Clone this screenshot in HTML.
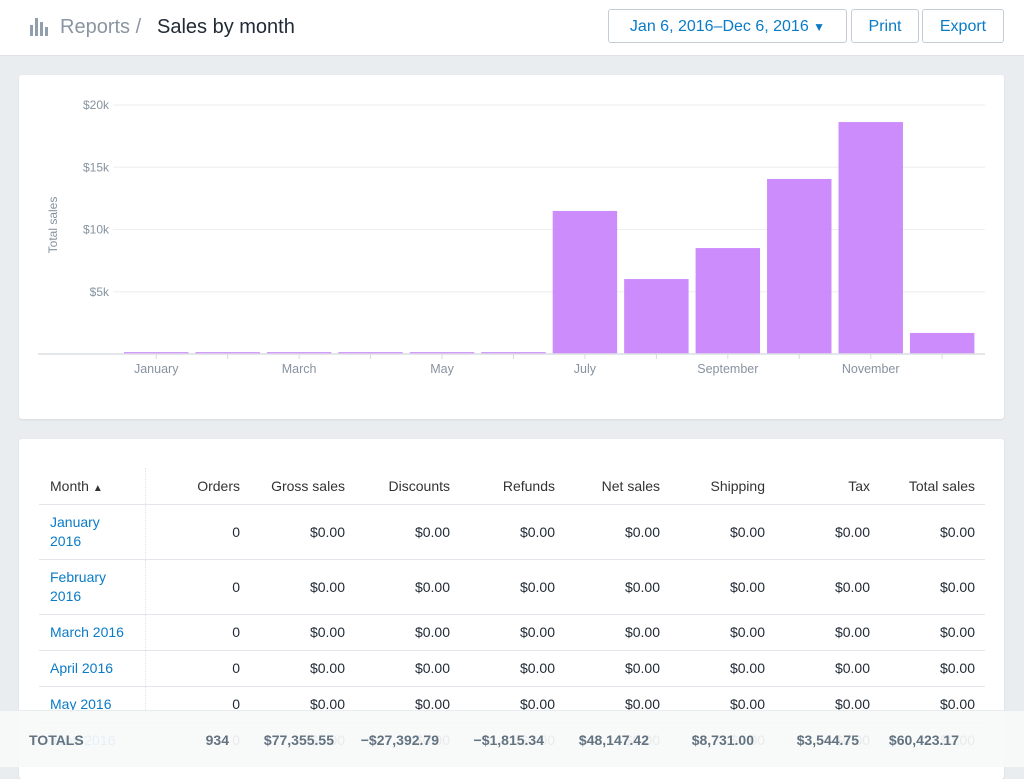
<!DOCTYPE html>
<html><head><meta charset="utf-8"><style>
body{margin:0;width:1024px;height:766px;overflow:hidden;background:#e9edf0;font-family:"Liberation Sans",sans-serif;position:relative}
.hdr{position:absolute;left:0;top:0;width:1024px;height:55px;background:#fff;border-bottom:1px solid #dfe3e8}
.btn{position:absolute;top:9px;height:34px;border:1px solid #c4cdd5;border-radius:3px;background:#fff;color:#0a7bc7;font-size:16px;line-height:34px;text-align:center;box-sizing:border-box}
.card{position:absolute;left:19px;width:985px;background:#fff;border-radius:3px;box-shadow:0 1px 2px rgba(0,0,0,.08)}
table{position:absolute;left:20px;top:29px;border-collapse:collapse;table-layout:fixed;width:946px;font-size:14px;color:#212b36}
td,th{height:36px;padding:0 10px 0 0;text-align:right;font-weight:normal;border-bottom:1px solid #e3e7eb;box-sizing:border-box}
th{height:36px;color:#333}
td.m,th.m{text-align:left;padding-left:11px;padding-right:0;border-right:1px dotted #e0e3e6;color:#0a7bc7;line-height:19px}
th.m{color:#333;line-height:normal}
.tall td{height:55px}
.tot{position:absolute;left:0;top:710px;width:1024px;height:56px;background:rgba(248,249,249,.93);border-top:1px solid #e9ecee;font-size:14px;font-weight:bold;color:#637381}
.tot span{position:absolute;top:21px}
</style></head><body>
<div class="hdr">
<svg style="position:absolute;left:29px;top:17px" width="20" height="20"><rect x="1" y="8" width="3" height="11" fill="#919eab"/><rect x="6" y="1" width="3" height="18" fill="#919eab"/><rect x="11" y="5" width="3" height="14" fill="#919eab"/><rect x="16" y="10" width="3" height="9" fill="#919eab"/></svg>
<span style="position:absolute;left:60px;top:16px;font-size:20px;color:#8a96a3">Reports /</span>
<span style="position:absolute;left:157px;top:16px;font-size:20px;color:#212b36">Sales by month</span>
<div class="btn" style="left:608px;width:239px">Jan 6, 2016–Dec 6, 2016 <span style="font-size:12px">▼</span></div>
<div class="btn" style="left:851px;width:68px">Print</div>
<div class="btn" style="left:922px;width:82px">Export</div>
</div>
<div class="card" style="top:75px;height:344px"></div>
<svg id="chart" style="position:absolute;left:0;top:0" width="1024" height="420"></svg>
<div class="card" style="top:439px;height:340px">
<table>
<colgroup><col style="width:106px"><col style="width:105px"><col style="width:105px"><col style="width:105px"><col style="width:105px"><col style="width:105px"><col style="width:105px"><col style="width:105px"><col style="width:105px"></colgroup>
<tr><th class="m">Month <span style="font-size:10px">▲</span></th><th>Orders</th><th>Gross sales</th><th>Discounts</th><th>Refunds</th><th>Net sales</th><th>Shipping</th><th>Tax</th><th>Total sales</th></tr>
<tr class="tall"><td class="m">January<br>2016</td><td>0</td><td>$0.00</td><td>$0.00</td><td>$0.00</td><td>$0.00</td><td>$0.00</td><td>$0.00</td><td>$0.00</td></tr>
<tr class="tall"><td class="m">February<br>2016</td><td>0</td><td>$0.00</td><td>$0.00</td><td>$0.00</td><td>$0.00</td><td>$0.00</td><td>$0.00</td><td>$0.00</td></tr>
<tr><td class="m">March 2016</td><td>0</td><td>$0.00</td><td>$0.00</td><td>$0.00</td><td>$0.00</td><td>$0.00</td><td>$0.00</td><td>$0.00</td></tr>
<tr><td class="m">April 2016</td><td>0</td><td>$0.00</td><td>$0.00</td><td>$0.00</td><td>$0.00</td><td>$0.00</td><td>$0.00</td><td>$0.00</td></tr>
<tr><td class="m">May 2016</td><td>0</td><td>$0.00</td><td>$0.00</td><td>$0.00</td><td>$0.00</td><td>$0.00</td><td>$0.00</td><td>$0.00</td></tr>
<tr><td class="m">June 2016</td><td>0</td><td>$0.00</td><td>$0.00</td><td>$0.00</td><td>$0.00</td><td>$0.00</td><td>$0.00</td><td>$0.00</td></tr>
</table></div>
<div class="tot">
<span style="left:29px">TOTALS</span>
<span style="right:795px">934</span><span style="right:690px">$77,355.55</span><span style="right:585px">−$27,392.79</span><span style="right:480px">−$1,815.34</span><span style="right:375px">$48,147.42</span><span style="right:270px">$8,731.00</span><span style="right:165px">$3,544.75</span><span style="right:65px">$60,423.17</span>
</div>
<script>
const months=["January","February","March","April","May","June","July","August","September","October","November","December"];
const sales=[150,150,150,150,150,150,11490,6020,8510,14060,18630,1690];
const yTicks=[5000,10000,15000,20000];
const yTickLabels=["$5k","$10k","$15k","$20k"];
const svg=document.getElementById('chart');const NS='http://www.w3.org/2000/svg';
const base=354,top0=105,yMax=20000,x0=120.5,band=71.45,pad=3.5;
const y=v=>base-(v/yMax)*(base-top0);
const xc=i=>x0+band*i+band/2;
function el(t,a){const e=document.createElementNS(NS,t);for(const k in a)e.setAttribute(k,a[k]);svg.appendChild(e);return e;}
yTicks.forEach((v,i)=>{
 const g=el('line',{x1:113,x2:985,y1:y(v),y2:y(v),stroke:'#eceef0'});
 
 
 const t=el('text',{x:109,y:y(v)+4,'text-anchor':'end','font-size':12,fill:'#8793a0'});
 t.textContent=yTickLabels[i];
 
 
});
const yt=el('text',{x:57,y:225,'text-anchor':'middle','font-size':12,fill:'#8793a0',transform:'rotate(-90 57 225)'});
yt.textContent='Total sales';


sales.forEach((v,i)=>{
 const b=el('rect',{x:x0+band*i+pad,y:y(v),width:band-2*pad,height:base-y(v),fill:'#c77ffc',opacity:0.9});
 
 
 const tk=el('line',{x1:xc(i),x2:xc(i),y1:base,y2:base+5,stroke:'#d6dadd'});
 
 
 if(i%2==0){const t=el('text',{x:xc(i),y:373,'text-anchor':'middle','font-size':12.5,fill:'#8793a0'});t.textContent=months[i];
 
 }
});
const ax=el('line',{x1:38,x2:985,y1:base,y2:base,stroke:'#dcdfe2','stroke-width':1.5});


</script>
</body></html>
